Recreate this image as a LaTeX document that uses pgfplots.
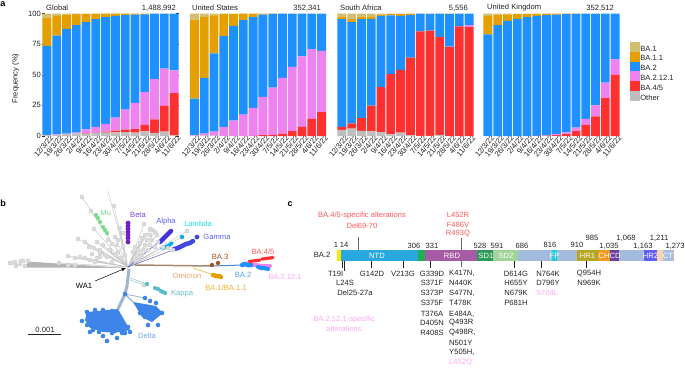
\documentclass[border=0pt]{standalone}
\usepackage{pgfplots}
\usepackage{pgfplotstable}
\pgfplotsset{compat=1.18}
\usepackage{fontspec}
\setmainfont{Liberation Sans}
\definecolor{cBAa}{HTML}{D2BE6E}
\definecolor{cBAb}{HTML}{E69F00}
\definecolor{cBAc}{HTML}{1E90FF}
\definecolor{cBAd}{HTML}{EE82EE}
\definecolor{cBAe}{HTML}{FF3030}
\definecolor{cOth}{HTML}{BEBEBE}
\definecolor{gp}{HTML}{DCDCDC}
\definecolor{gl}{HTML}{C8C8C8}
\definecolor{dl}{HTML}{3D85E8}
\definecolor{pinkt}{HTML}{FFA8F0}
\definecolor{redt}{HTML}{FF5A5A}
\definecolor{txt}{HTML}{222222}
\definecolor{cmu}{HTML}{80D890}
\definecolor{cbeta}{HTML}{7020C0}
\definecolor{calpha}{HTML}{4132D7}
\definecolor{cgamma}{HTML}{4146E1}
\definecolor{ckappa}{HTML}{55BEC3}
\definecolor{cba3}{HTML}{A0501A}
\pgfplotstableread{
x oth e d c b a
0 0.8 0 0.2 72.5 23.2 3.3
1 1.2 0 0.3 80.5 16 2
2 1.6 0 0.4 85.5 11.5 1
3 2 0 0.7 87.8 9 0.5
4 2 0.3 3.2 87.5 6.5 0.5
5 2.5 0.3 4.7 88 4.2 0.3
6 2.7 0.8 6.5 87 2.8 0.2
7 3 1.3 10.7 83 1.8 0.2
8 3.2 2 16.3 77.2 1.2 0.1
9 2.8 2.9 21.3 72 0.9 0.1
10 3.8 5.2 27 63.3 0.6 0.1
11 2.5 11 33 53.5 0 0
12 3.5 21 30.5 45 0 0
13 0.5 34.5 18.5 46.5 0 0
}\tglobal
\pgfplotstableread{
x oth e d c b a
0 0.5 0 0.5 29.5 64.5 5
1 0.5 0 1.5 45.5 49.5 3
2 0.3 0 3.2 64 31 1.5
3 0.2 0 7.3 74 18 0.5
4 0.1 0 12.4 77.5 9.5 0.5
5 0 0 17.5 77 5.3 0.2
6 0 0.1 22.9 74 3 0
7 0 0.8 31.2 67 1 0
8 0 1 38.5 60.2 0.3 0
9 0 2 45.5 52.3 0.2 0
10 0 4 52.5 43.5 0 0
11 0 7.5 57.5 35 0 0
12 0 14 57 29 0 0
13 0 19.5 50 30.5 0 0
}\tus
\pgfplotstableread{
x oth e d c b a
0 5 2.5 0 88 2 2.5
1 6 4.3 0 82.7 2.5 4.5
2 4.2 10.3 0 81 2 2.5
3 3.8 20.9 0 71 2 2.3
4 3.2 36.8 0 58 1 1
5 1.5 49 0 47.9 1.1 0.5
6 2.8 51.2 0 44 1.5 0.5
7 0.7 63.3 0 34.6 1.1 0.3
8 0.2 85.3 0 14.5 0 0
9 0.2 85.8 0 13.7 0 0.3
10 1 79.7 0.3 19 0 0
11 0 72.8 0.2 26.7 0 0.3
12 0 89.4 0.2 10.4 0 0
13 0 88.9 1.6 9.5 0 0
}\tsa
\pgfplotstableread{
x oth e d c b a
0 0 0 0 83 15 2
1 0 0 0 90.5 8.5 1
2 0 0 0 94 5.2 0.8
3 0 0 0 95.7 3.8 0.5
4 0 0 0 97 2.5 0.5
5 0.1 0.1 0 97.8 1.5 0.5
6 0.2 0.2 0.2 98 1.1 0.3
7 0.2 0.6 0.8 97.4 0.8 0.2
8 0 1.6 1.4 96.5 0.4 0.1
9 0 4 2.8 92.9 0.3 0
10 0 9 5 86 0 0
11 0 16 9 75 0 0
12 0 31 12.5 56.5 0 0
13 0 50 12.5 37.5 0 0
}\tuk
\newcommand\fs{\fontsize{7.6}{8}\selectfont}
\pgfplotsset{
 freq/.style={
  scale only axis, anchor=north west, width=137pt, height=122.5pt,
  ybar stacked, bar width=0.9, bar shift=0pt,
  xmin=-0.5, xmax=13.5, ymin=0, ymax=100,
  axis line style={draw=none},
  xtick={0,...,13},
  xticklabels={12/3/22,19/3/22,26/3/22,2/4/22,9/4/22,16/4/22,23/4/22,30/4/22,7/5/22,14/5/22,21/5/22,28/5/22,4/6/22,11/6/22},
  x tick label style={rotate=50, anchor=north east, font=\fs, text=txt, inner sep=0pt, xshift=3pt, yshift=-1pt},
  xtick style={draw=none},
  ytick=\empty,
  every axis plot/.append style={draw=none},
  clip=false,
 },
 dots/.style n args={3}{only marks,mark=*,mark size=#1,mark options={draw=#2,fill=#3,line width=0.3pt}},
 chain/.style={line width=#1,line cap=round},
}
\newcommand\stack[1]{%
 \addplot[fill=cOth] table[x=x,y=oth] {#1};
 \addplot[fill=cBAe] table[x=x,y=e] {#1};
 \addplot[fill=cBAd] table[x=x,y=d] {#1};
 \addplot[fill=cBAc] table[x=x,y=c] {#1};
 \addplot[fill=cBAb] table[x=x,y=b] {#1};
 \addplot[fill=cBAa] table[x=x,y=a] {#1};
}
\newcommand\seg[3]{\addplot[fill=#3,draw=none] coordinates {(#1,250)(#2,250)(#2,261)(#1,261)} -- cycle;}
\newcommand\dom[2]{\node[font=\fs,inner sep=0pt,text=white] at (axis cs:#1,255.5) {#2};}
\newcommand\LL[4]{\node[font=\fs,inner sep=0pt,text=#1] at (axis cs:#2,#3) {#4};}
\newcommand\LW[4]{\node[font=\fs,inner sep=0pt,text=#1,anchor=west] at (axis cs:#2,#3) {#4};}
\newcommand\LE[4]{\node[font=\fs,inner sep=0pt,text=#1,anchor=east] at (axis cs:#2,#3) {#4};}
\newcommand\vt[3]{\addplot[color=txt,line width=0.5pt] coordinates {(#1,#2)(#1,#3)};}
\begin{document}
\begin{tikzpicture}[x=1pt,y=1pt]
\useasboundingbox (0,0) rectangle (685pt,-367pt);

% Panel a
\begin{axis}[freq, at={(42pt,-13.5pt)},
  ytick={0,25,50,75,100},
  ytick style={draw=txt,line width=0.4pt},
  major tick length=3pt,
  /pgf/number format/assume math mode=true,
  y tick label style={font=\fs,text=txt,inner sep=1pt},
  ylabel={Frequency (\%)}, ylabel style={font=\fs,text=txt,inner sep=0pt,at={(axis description cs:-0.165,0.47)}},
  ]
\stack{\tglobal}
\end{axis}
\begin{axis}[freq, at={(189.5pt,-13.5pt)}]
\stack{\tus}
\end{axis}
\begin{axis}[freq, at={(337pt,-13.5pt)}]
\stack{\tsa}
\end{axis}
\begin{axis}[freq, at={(483pt,-13.5pt)},
  legend style={draw=none,fill=none,anchor=north west,legend cell align=left,
    at={(axis description cs:1.075,0.75)},row sep=0pt,inner sep=0pt,outer sep=0pt,
    nodes={inner sep=0pt,outer sep=0pt,font=\fs,text=txt,text height=7pt,text depth=2.8pt}},
  reverse legend,
  legend image code/.code={\path (0pt,0pt) (10pt,0pt);\fill[#1,overlay] (0pt,-2.7pt) rectangle (10pt,7pt);},
  ]
\stack{\tuk}
\legend{Other,BA.4/5,BA.2.12.1,BA.2,BA.1.1,BA.1}
\end{axis}

% Overlay for headings, panels b and c, in picture pixels
\begin{axis}[at={(0pt,0pt)},anchor=north west,scale only axis,width=685pt,height=367pt,
  xmin=0,xmax=685,ymin=0,ymax=367,y dir=reverse,hide axis,clip=false]

% tree: grey branches
\addplot[fill=gl!90!black,draw=none] coordinates {(128,268)(27,261.5)(27,267.5)} -- cycle;
\addplot[gl,line width=0.5pt] coordinates {
(128,267)(82,197)(128,267)(91,211)(128,267)(114,206)(128,267)(94,229)(128,267)(78,239)
(128,267)(85,242)(128,267)(97,242)(128,267)(89,247)(128,267)(94,248)(128,267)(100,250)
(128,267)(68,256)(128,267)(75,258)(128,267)(80,257)(128,267)(85,258)(128,267)(90,260)
(128,267)(95,262)(128,267)(59,263)(128,267)(108,191)(128,267)(144,224)(128,267)(150,229)
(128,267)(155,232)(128,267)(187,231)(128,267)(182,237)(128,267)(168,248)(128,267)(173,250)
(128,267)(145,235)(128,267)(157,235)(128,267)(142,238)(128,267)(158,242)(128,267)(138,250)
(128,267)(115,237)(128,267)(120,228)(128,267)(110,250)(128,267)(103,245)};
\addplot[dots={2.1pt}{gl}{gp}] coordinates {
(82,197)(91,211)(114,206)(94,229)(78,239)(85,242)(97,242)(89,247)(94,248)(100,250)
(68,256)(75,258)(80,257)(85,258)(90,260)(95,262)(59,263)(68,265)(75,265)(100,253)
(107,257)(112,262)(115,237)(118,240)(120,228)(117,245)(110,250)(103,245)(108,240)(123,233)
(123,247)(118,252)(125,255)(105,255)(100,257)(115,255)(121,258)(112,244)(92,254)(97,258)
(10,263)(15,262)(16,266)(21,261)(25,266)(23,261)(28,261)(20,264)(12,263)
(144,224)(150,229)(155,232)(145,235)(150,235)(157,235)(142,238)(147,240)(152,240)(158,242)
(140,243)(145,245)(150,245)(155,247)(138,250)(143,250)(148,250)(137,255)(142,255)(135,260)
(187,231)(182,237)(168,248)(173,250)(163,247)(152,230)(135,247)(133,252)(140,257)};
% Mu
\addplot[dots={2pt}{cmu}{cmu}] coordinates {(96,215)(98,218)(100,222)(103,227)(105,230)(107,233)};
% Beta
\addplot[dots={2.2pt}{cbeta}{cbeta}] coordinates {(128,223)(128,226)(128,229)(128,232)(128,235)(128,238)(128,242)};
% Alpha, Lambda, Gamma
\addplot[color=calpha,line width=0.3pt] coordinates {(128,267)(160,241)};
\addplot[color=calpha,chain=4.5pt] coordinates {(160,242)(163,239)(166,236)(169,233)(171,231)};
\addplot[color=cyan,chain=3.5pt] coordinates {(162,248)(165,247)(168,246)(172,243)};
\addplot[dots={2pt}{cyan}{cyan}] coordinates {(182,237)};
\addplot[color=cgamma,line width=0.3pt] coordinates {(128,267)(173,250)};
\addplot[color=cgamma,chain=4.5pt] coordinates {(174,249)(178,248)(182,246)(186,244)(190,243)(193,241)};
\addplot[dots={2.2pt}{cgamma}{cgamma}] coordinates {(197,237)};
% Omicron
\addplot[color={rgb,255:red,165;green,135;blue,110},line width=1.5pt] coordinates {(135,265)(212,266)};
\addplot[color=cBAc!60!gray,line width=1pt] coordinates {(212,266)(242,265)};
\addplot[color=cBAb!70!white,line width=0.7pt] coordinates {(193,268)(214,275)};
\addplot[color=cBAb,chain=4.5pt] coordinates {(213,275)(216,276)(219,276)(221,277)};
\addplot[dots={2pt}{cba3}{cba3}] coordinates {(212,265)(218,263)};
\addplot[color=cBAd,chain=4pt] coordinates {(252,265)(256,265)(261,266)(266,266)(270,266)};
\addplot[color=cBAc,chain=4.5pt] coordinates {(242,265)(245,264)(248,265)(251,265)};
\addplot[color=cBAc,chain=4pt] coordinates {(258,267)(261,268)(264,268)(268,269)};
\addplot[color=cBAe,chain=3.2pt] coordinates {(249,261.5)(253,261)(257,260.5)(260,260)};
\addplot[color=cBAe,chain=3.2pt] coordinates {(262,259)(266,258.5)(270,258)(273,257.5)};
% Kappa
\addplot[color=teal!35!white,line width=0.7pt] coordinates {(130,278)(147,284)};
\addplot[color=teal!35!white,line width=0.7pt] coordinates {(130,280)(144,285)};
\addplot[dots={2.1pt}{gl}{gp}] coordinates {(144,285)};
\addplot[dots={2pt}{ckappa}{ckappa}] coordinates {(147,284)(155,288)(158,289)(161,291)(163,292)(165,293)};
% Trunk & Delta
\addplot[color={rgb,255:red,160;green,180;blue,208},line width=3pt] coordinates {(129,269)(127,286)(125,294)(118,309)};
\addplot[color={rgb,255:red,150;green,180;blue,215},line width=1.2pt] coordinates {(125,294)(133,302)};
\addplot[color={rgb,255:red,150;green,180;blue,215},line width=0.8pt] coordinates {(125,294)(145,298)};
\addplot[fill=dl,draw=none] coordinates {(118,309)(87,312)(85,320)(90,328)(103,332)(120,332)(130,330)} -- cycle;
\addplot[fill=dl,draw=none] coordinates {(133,302)(142,317)(152,322)(163,313)(156,306)} -- cycle;
\addplot[dots={2.1pt}{dl}{dl}] coordinates {
(87,312)(95,310)(103,310)(112,311)(82,321)(88,315)(90,322)(87,325)(90,332)(97,327)(103,336)(107,341)
(112,333)(117,338)(122,333)(130,332)(125,333)(128,327)(93,330)(99,332)(108,330)(115,331)
(145,298)(150,301)(156,303)(162,313)(152,312)(150,318)(158,325)(148,325)(153,317)(145,317)(140,313)(125,294)};
\draw[-latex,line width=0.5pt,black] (axis cs:95,281) -- (axis cs:126,268);

% tree labels
\LL{cmu}{105.7}{213}{Mu}
\LL{{rgb,255:red,128;green,64;blue,224}}{138}{215}{Beta}
\LL{{rgb,255:red,96;green,96;blue,240}}{166}{222}{Alpha}
\LL{{rgb,255:red,32;green,224;blue,224}}{198}{224}{Lambda}
\LL{{rgb,255:red,96;green,96;blue,240}}{217}{237}{Gamma}
\LL{{rgb,255:red,160;green,80;blue,32}}{220}{257}{BA.3}
\LL{redt}{263}{252}{BA.4/5}
\LL{{rgb,255:red,240;green,160;blue,112}}{187}{276}{Omicron}
\LL{{rgb,255:red,80;green,160;blue,240}}{243}{275}{BA.2}
\LL{pinkt}{285}{277}{BA.2.12.1}
\LL{{rgb,255:red,240;green,176;blue,48}}{226}{288}{BA.1/BA.1.1}
\LL{{rgb,255:red,112;green,192;blue,192}}{182}{294}{Kappa}
\LL{{rgb,255:red,112;green,168;blue,240}}{147}{336}{Delta}
\LL{black}{84}{286}{WA1}
\addplot[color=txt,line width=0.5pt] coordinates {(28,334)(61,334)};
\LL{txt}{45}{330}{0.001}

% panel letters
\node[font=\fontsize{9}{9}\selectfont\bfseries,inner sep=0pt] at (axis cs:3,4) {a};
\node[font=\fontsize{9}{9}\selectfont\bfseries,inner sep=0pt] at (axis cs:3,203) {b};
\node[font=\fontsize{9}{9}\selectfont\bfseries,inner sep=0pt] at (axis cs:290,204) {c};

% panel a headings
\LW{txt}{46}{8}{Global}\LE{txt}{176}{8}{1,488,992}
\LW{txt}{192}{8}{United States}\LE{txt}{321}{8}{352,341}
\LW{txt}{340}{8}{South Africa}\LE{txt}{468}{8}{5,556}
\LW{txt}{487}{8}{United Kingdom}\LE{txt}{614}{8}{352,512}

% panel c: ticks
\addplot[color=gray!80!black,line width=0.6pt] coordinates {(358,237)(358,250)};
\addplot[color=gray!80!black,line width=0.8pt] coordinates {(461,238)(461,267)};
\vt{342.7}{261}{268}\vt{344.5}{261}{271}\vt{371.7}{261}{268}\vt{403}{261}{268}
\vt{430}{261}{268}\vt{514}{261}{268}\vt{541}{261}{268}\vt{586}{261}{268}
% panel c: domains
\seg{337.3}{341}{yellow!90!orange}
\seg{341}{418.3}{{rgb,255:red,41;green,168;blue,224}}
\seg{418.3}{424.7}{{rgb,255:red,29;green,176;blue,80}}
\seg{424.7}{476.7}{{rgb,255:red,166;green,91;blue,165}}
\seg{476.7}{493.3}{{rgb,255:red,42;green,154;blue,88}}
\seg{493.3}{518.3}{{rgb,255:red,160;green,212;blue,154}}
\seg{518.3}{552.3}{{rgb,255:red,163;green,187;blue,221}}
\seg{552.3}{557}{{rgb,255:red,32;green,208;blue,224}}
\seg{557}{577.3}{{rgb,255:red,163;green,187;blue,221}}
\seg{577.3}{597.7}{{rgb,255:red,181;green,165;blue,32}}
\seg{597.7}{610.3}{{rgb,255:red,240;green,152;blue,32}}
\seg{610.3}{619}{{rgb,255:red,106;green,63;blue,160}}
\seg{619}{644}{{rgb,255:red,163;green,187;blue,221}}
\seg{644}{657}{{rgb,255:red,96;green,96;blue,240}}
\seg{657}{662.7}{{rgb,255:red,248;green,213;blue,176}}
\seg{662.7}{672.7}{{rgb,255:red,168;green,190;blue,224}}
\seg{672.7}{674}{{rgb,255:red,190;green,190;blue,190}}
\dom{377}{NTD}\dom{452}{RBD}\dom{486}{SD1}\dom{506}{SD2}\dom{554.5}{FP}
\dom{587.5}{HR1}\dom{604}{CH}\dom{615}{CD}\dom{650.5}{HR2}\dom{668}{CT}
\LL{txt}{322}{255}{BA.2}
% residue numbers
\LL{txt}{336}{245}{1}\LL{txt}{344}{245}{14}\LL{txt}{414}{246}{306}\LL{txt}{432}{246}{331}
\LL{txt}{480}{246}{528}\LL{txt}{497}{246}{591}\LL{txt}{522}{246}{686}\LL{txt}{550}{245}{816}
\LL{txt}{577}{245}{910}\LL{txt}{592}{238}{985}\LL{txt}{609}{246}{1,035}\LL{txt}{626}{238}{1,068}
\LL{txt}{643}{246}{1,163}\LL{txt}{659}{238}{1,211}\LL{txt}{675}{246}{1,273}
% alterations above
\LL{redt}{362}{216}{BA.4/5-specific alterations}
\LL{redt}{362}{226}{Del69-70}
\LL{redt}{458}{215}{L452R}\LL{redt}{458}{224.5}{F486V}\LL{redt}{458}{234}{R493Q}
% alterations below
\LL{txt}{335.7}{273.5}{T19I}\LL{txt}{345}{283}{L24S}\LL{txt}{355}{293}{Del25-27a}
\LL{txt}{372}{273.5}{G142D}\LL{txt}{403}{273.5}{V213G}
\LL{txt}{432}{273.5}{G339D}\LL{txt}{432}{283}{S371F}\LL{txt}{432}{293}{S373P}\LL{txt}{432}{302.5}{S375F}
\LL{txt}{432}{313.5}{T376A}\LL{txt}{432}{323}{D405N}\LL{txt}{432}{333}{R408S}
\LW{txt}{449}{273.5}{K417N,}\LW{txt}{449}{283}{N440K}\LW{txt}{449}{293}{S477N,}\LW{txt}{449}{302.5}{T478K}
\LW{txt}{449}{314}{E484A,}\LW{txt}{449}{323}{Q493R}\LW{txt}{449}{333}{Q498R,}\LW{txt}{449}{343}{N501Y}
\LW{txt}{449}{352.5}{Y505H,}\LW{pinkt}{449}{363}{L452Q}
\LL{txt}{516}{273.5}{D614G}\LL{txt}{516}{283}{H655Y}\LL{txt}{516}{293}{N679K}\LL{txt}{516}{302.5}{P681H}
\LL{txt}{548}{273.5}{N764K}\LL{txt}{548}{283}{D796Y}\LL{pinkt}{547}{293}{S704L}
\LL{txt}{589}{273.5}{Q954H}\LL{txt}{589}{283}{N969K}
\LL{pinkt}{344}{320}{BA.2.12.1-specific}\LL{pinkt}{344}{329}{alterations}
\end{axis}
\end{tikzpicture}
\end{document}
